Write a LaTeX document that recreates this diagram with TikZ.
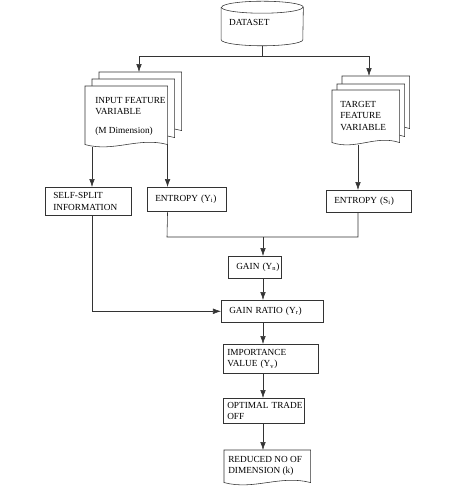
\documentclass[tikz,border=0pt]{standalone}
\usepackage{fontspec}
\setmainfont{Liberation Serif}
\usetikzlibrary{positioning, arrows.meta, calc, backgrounds}
\tikzset{
  box1/.style = {
    shape = rectangle,
    draw = black!80,
    align = left,
    anchor = north west,
    inner xsep = 0.2cm,
    inner ysep = 0pt,
    font = \fontsize{6.6}{8.2}\selectfont,
  }
}
\tikzset{
  sheet1/.style = {
    shape = rectangle,
    draw = none,
    inner sep = 0pt,
    anchor = north west,
  },
  text1/.style = {
    align = left,
    anchor = north west,
    inner xsep = 0.25cm,
    inner ysep = 0.27cm,
    font = \fontsize{6.6}{8.2}\selectfont,
  }
}
\tikzset{
  arrow1/.style = {
    draw = black!80, -{Latex[length = 2mm, width = 1.4mm]},
  },
  line1/.style = {
    draw = black!80,
  }
}
% one sheet of a document symbol, shifted by #2
\newcommand{\docsheet}[2]{%
  \draw[line1, fill = white] ($(#1.north west)+(#2)$) -- ($(#1.north east)+(#2)$) -- ($(#1.south east)+(#2)$)
    .. controls ($(#1.south east)!0.35!(#1.south west)+(#2)+(0,0.2)$) and ($(#1.south east)!0.65!(#1.south west)+(#2)+(0,-0.2)$) .. ($(#1.south west)+(#2)$) -- cycle;
}

\begin{document}
\begin{tikzpicture}
        \useasboundingbox (0,0) rectangle (11.85,-12.225);
        \node[sheet1, minimum width = 2.04cm, minimum height = 1.1cm](dataset) at (5.53,-0.03){};
        \node[text1, anchor = west, inner sep = 0pt](datasettxt) at (5.72,-0.55){DATASET};
        % document stacks
        \node[sheet1, minimum width = 2.05cm, minimum height = 1.45cm](input) at (2.125,-2.15){};
        \node[sheet1, minimum width = 1.675cm, minimum height = 1.3cm](target) at (8.3,-2.25){};
        \node[sheet1, minimum width = 2.15cm, minimum height = 0.8cm](reduced) at (5.6,-11.25){};
        \begin{scope}[on background layer]
                % data store drum
                \draw[line1, fill = white]([yshift = -0.15cm]dataset.north west) -- ([yshift = 0.15cm]dataset.south west)
                        arc[start angle = 180, end angle = 360, x radius = 1.02cm, y radius = 0.15cm]
                        -- ([yshift = -0.15cm]dataset.north east)
                        arc[start angle = 0, end angle = 180, x radius = 1.02cm, y radius = 0.15cm];
                \draw[line1]([yshift = -0.15cm]dataset.north west) arc[start angle = 180, end angle = 360, x radius = 1.02cm, y radius = 0.15cm];
                \docsheet{input}{0.35,0.35}
                \docsheet{input}{0.175,0.175}
                \docsheet{input}{0,0}
                \docsheet{target}{0.25,0.35}
                \docsheet{target}{0.125,0.15}
                \docsheet{target}{0,0}
                \docsheet{reduced}{0,0}
        \end{scope}
        \node[text1](inputtxt) at (input.north west){INPUT~FEATURE\\VARIABLE\\[5pt](M~Dimension)};
        \node[text1, inner xsep = 0.2cm](targettxt) at (target.north west){TARGET\\FEATURE\\VARIABLE};
        \node[text1, inner xsep = 0.1cm, inner ysep = 0.14cm](reducedtxt) at (reduced.north west){REDUCED~NO~OF\\DIMENSION~(k)};
        % boxes
        \node[box1, minimum height = 0.7cm, text width = 1.75cm](split) at (1.125,-4.675){SELF-SPLIT\\INFORMATION};
        \node[box1, minimum height = 0.6cm, text width = 1.575cm](enty) at (3.675,-4.675){ENTROPY~(Y$_{\mathrm{i}}$)};
        \node[box1, minimum height = 0.55cm, text width = 1.725cm](ents) at (8.15,-4.75){ENTROPY~(S$_{\mathrm{i}}$)};
        \node[box1, minimum height = 0.55cm, text width = 0.925cm](gain) at (5.7,-6.4){GAIN~(Y$_{\mathrm{n}}$)};
        \node[box1, minimum height = 0.55cm, text width = 2.15cm](gratio) at (5.525,-7.5){GAIN~RATIO~(Y$_{\mathrm{r}}$)};
        \node[box1, inner xsep = 0.1cm, minimum height = 0.725cm, text width = 2.175cm](imp) at (5.575,-8.6){IMPORTANCE\\VALUE~(Y$_{\mathrm{v}}$)};
        \node[box1, inner xsep = 0.1cm, minimum height = 0.625cm, text width = 1.825cm](opt) at (5.575,-9.95){OPTIMAL~TRADE\\OFF};
        % junction points
        \coordinate (tl) at (3.475,-1.4);
        \coordinate (tr) at (9.225,-1.4);
        \coordinate (intop) at ($(input.north west)+(0.35,0.35)$);
        \coordinate (tgtop) at ($(target.north west)+(0.25,0.35)$);
        \coordinate (inl) at ($(input.south west)+(0.175,-0.05)$);
        \coordinate (inr) at (input.south east);
        \coordinate (tgl) at ($(target.south west)+(0.65,-0.05)$);
        \coordinate (bl) at (4.175,-5.925);
        \coordinate (cx) at (6.575,-5.925);
        % connectors
        \draw[line1](dataset.south) -- (dataset.south |- tl);
        \draw[line1](tl) -- (tr);
        \draw[arrow1](tl) -- (tl |- intop);
        \draw[arrow1](tr) -- (tr |- tgtop);
        \draw[arrow1](inl) -- (inl |- split.north);
        \draw[arrow1](inr) -- (inr |- enty.north);
        \draw[arrow1](tgl) -- (tgl |- ents.north);
        \draw[line1](inr |- enty.south) -- (bl) -- (tgl |- bl) -- (tgl |- ents.south);
        \draw[arrow1](cx) -- (cx |- gain.north);
        \draw[arrow1](cx |- gain.south) -- (cx |- gratio.north);
        \draw[arrow1](inl |- split.south) -- (inl |- gratio.west) -- (gratio.west);
        \draw[arrow1](cx |- gratio.south) -- (cx |- imp.north);
        \draw[arrow1](cx |- imp.south) -- (cx |- opt.north);
        \draw[arrow1](cx |- opt.south) -- (cx |- reduced.north);
    \end{tikzpicture}
\end{document}
